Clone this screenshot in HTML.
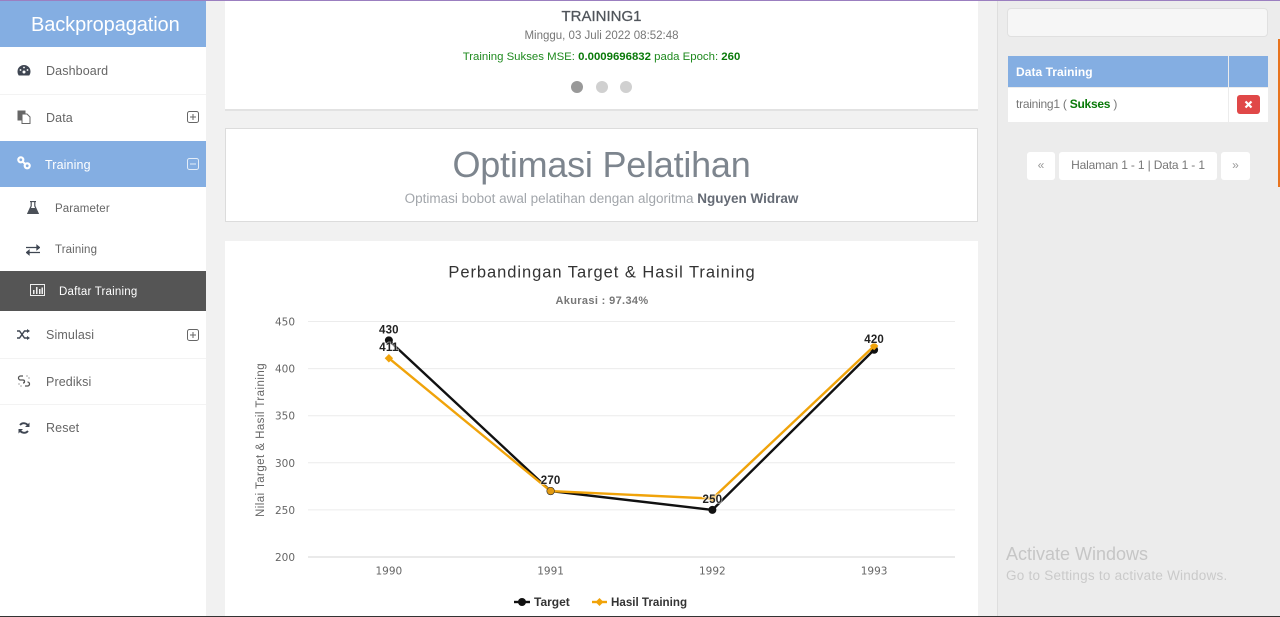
<!DOCTYPE html>
<html lang="id">
<head>
<meta charset="utf-8">
<title>Optimasi Pelatihan</title>
<style>
html,body{margin:0;padding:0;width:1280px;height:617px;overflow:hidden;background:#f1f1f1;font-family:"Liberation Sans",sans-serif;color:#6b6f74}
*{box-sizing:border-box}
.abs{position:absolute}
.t{position:absolute;white-space:nowrap}
#sidebar{position:absolute;left:0;top:0;width:206px;height:617px;background:#fff}
.row{position:absolute;left:0;width:206px;border-bottom:1px solid #f3f3f3}
.lbl{position:absolute;font-size:12.5px;white-space:nowrap;color:#666;letter-spacing:.12px}
.ico{position:absolute}
.card{position:absolute;background:#fff}
#right{position:absolute;left:997px;top:0;width:283px;height:617px;background:#ececec;border-left:1px solid #dedede}
</style>
</head>
<body>
<div class="abs" style="left:0;top:0;width:1280px;height:1px;background:#9b7fc0;z-index:9"></div>
<div class="abs" style="left:0;top:616px;width:1280px;height:1px;background:#333;z-index:9"></div>

<nav id="sidebar">
  <div class="abs" style="left:0;top:0;width:206px;height:47px;background:#84aee2">
    <div class="t" style="left:31px;top:14px;font-size:20px;color:#fff;letter-spacing:-.1px">Backpropagation</div>
  </div>

  <div class="row" style="top:47px;height:48px">
    <svg class="ico" style="left:17px;top:17px" width="14" height="13" viewBox="0 0 14 13"><path d="M7 1a6.5 6.5 0 0 0-6.5 6.5c0 1.600.5 3 1.300 4h10.400c.8-1 1.300-2.400 1.300-4A6.500 6.500 0 0 0 7 1z" fill="#3f4652"/><circle cx="7" cy="8" r="1.500" fill="#fff"/><circle cx="3.500" cy="6" r=".9" fill="#fff"/><circle cx="10.500" cy="6" r=".9" fill="#fff"/><circle cx="7" cy="3.500" r=".9" fill="#fff"/></svg>
    <div class="lbl" style="left:46px;top:17px">Dashboard</div>
  </div>

  <div class="row" style="top:95px;height:46px;border:0">
    <svg class="ico" style="left:17px;top:15px" width="14" height="14" viewBox="0 0 14 14"><rect x="0.500" y="0.500" width="8" height="10" fill="#666"/><path d="M5 4h5l3 3v6.500H5z" fill="#fff" stroke="#666"/></svg>
    <div class="lbl" style="left:46px;top:16px">Data</div>
    <svg class="ico" style="left:187px;top:16px" width="12" height="12" viewBox="0 0 12 12"><rect x=".5" y=".5" width="11" height="11" rx="2" fill="none" stroke="#666"/><path d="M3 6h6M6 3v6" stroke="#666"/></svg>
  </div>

  <div class="abs" style="left:0;top:141px;width:206px;height:46px;background:#84aee2">
    <svg class="ico" style="left:17px;top:15px" width="14" height="14" viewBox="0 0 14 14"><circle cx="3.800" cy="3.800" r="2.500" fill="none" stroke="#fff" stroke-width="2.200"/><circle cx="10.200" cy="9.800" r="2.500" fill="none" stroke="#fff" stroke-width="2.200"/><path d="M5.500 5.500l3 2.700" stroke="#fff" stroke-width="2"/></svg>
    <div class="lbl" style="left:45px;top:17px;color:#fff">Training</div>
    <svg class="ico" style="left:187px;top:17px" width="12" height="12" viewBox="0 0 12 12"><rect x=".5" y=".5" width="11" height="11" rx="2" fill="none" stroke="#e4edf8"/><path d="M3 6h6" stroke="#e4edf8"/></svg>
  </div>

  <div class="abs" style="left:0;top:187px;width:206px;height:42px">
    <svg class="ico" style="left:27px;top:14px" width="12" height="13" viewBox="0 0 12 13"><path d="M3 .5h6M4.200 1v4L.8 12.500h10.400L7.800 5V1" fill="none" stroke="#4b5058" stroke-width="1.200"/><path d="M3 7h6l2.200 5.500H.8z" fill="#4b5058"/></svg>
    <div class="lbl" style="left:55px;top:16px;font-size:11.5px">Parameter</div>
  </div>

  <div class="abs" style="left:0;top:229px;width:206px;height:41px">
    <svg class="ico" style="left:26px;top:15px" width="14" height="12" viewBox="0 0 14 12"><path d="M0 3.500h11M11 1.500l2.500 2-2.500 2zM14 8.500H3M3 6.500l-2.500 2 2.500 2z" stroke="#3f4652" stroke-width="1.300" fill="#3f4652"/></svg>
    <div class="lbl" style="left:55px;top:15px;font-size:11.5px">Training</div>
  </div>

  <div class="abs" style="left:0;top:271px;width:206px;height:40px;background:#555">
    <svg class="ico" style="left:30px;top:13px" width="15" height="12" viewBox="0 0 15 12"><rect x=".5" y=".5" width="14" height="11" fill="#555" stroke="#eee"/><path d="M3 10V6h1.500v4zM6 10V3h1.500v7zM9 10V5h1.500v5zM11.500 10V3.500H13V10z" fill="#eee"/></svg>
    <div class="lbl" style="left:59px;top:15px;font-size:11.5px;color:#fff;letter-spacing:.2px">Daftar Training</div>
  </div>

  <div class="row" style="top:311px;height:48px">
    <svg class="ico" style="left:17px;top:18px" width="13" height="11" viewBox="0 0 13 11"><path d="M0 2h2.500l5 7H10M0 9h2.500l5-7H10" fill="none" stroke="#3f4652" stroke-width="1.400"/><path d="M10 0l3 2-3 2zM10 7l3 2-3 2z" fill="#3f4652"/></svg>
    <div class="lbl" style="left:46px;top:17px">Simulasi</div>
    <svg class="ico" style="left:187px;top:18px" width="12" height="12" viewBox="0 0 12 12"><rect x=".5" y=".5" width="11" height="11" rx="2" fill="none" stroke="#666"/><path d="M3 6h6M6 3v6" stroke="#666"/></svg>
  </div>

  <div class="row" style="top:359px;height:46px">
    <svg class="ico" style="left:17px;top:15px" width="14" height="14" viewBox="0 0 14 14"><path d="M6 2H3.500a2 2 0 0 0 0 4H6c2 0 2 3 0 3M8 12h2.500a2 2 0 0 0 0-4" fill="none" stroke="#555" stroke-width="1.300"/><path d="M10 1v2M13 4h-2M1 10h2M4 13v-2" stroke="#aaa"/></svg>
    <div class="lbl" style="left:46px;top:16px">Prediksi</div>
  </div>

  <div class="abs" style="left:0;top:405px;width:206px;height:46px">
    <svg class="ico" style="left:18px;top:17px" width="12" height="12" viewBox="0 0 12 12"><path d="M10.500 4.500A5 5 0 0 0 2 3M1.500 7.500A5 5 0 0 0 10 9" fill="none" stroke="#3f4652" stroke-width="1.900"/><path d="M11.500 .5v4.500H7zM.5 11.500V7H5z" fill="#3f4652"/></svg>
    <div class="lbl" style="left:46px;top:16px">Reset</div>
  </div>
</nav>

<section class="card" style="left:225px;top:0;width:753px;height:111px;border-bottom:2px solid #e2e2e2">
  <div class="t" style="left:0;width:753px;text-align:center;top:8px;font-size:15px;color:#50555b;-webkit-text-stroke:.25px #50555b">TRAINING1</div>
  <div class="t" style="left:0;width:753px;text-align:center;top:30px;font-size:11.5px;color:#777">Minggu, 03 Juli 2022 08:52:48</div>
  <div class="t" style="left:0;width:753px;text-align:center;top:50px;font-size:11.4px;line-height:14px;color:#1f8a1f">Training Sukses MSE: <b style="color:#0a7a0a">0.0009696832</b> pada Epoch: <b style="color:#0a7a0a">260</b></div>
  <div class="abs" style="left:346px;top:81px;width:12px;height:12px;border-radius:50%;background:#999"></div>
  <div class="abs" style="left:371px;top:81px;width:12px;height:12px;border-radius:50%;background:#d0d0d0"></div>
  <div class="abs" style="left:395px;top:81px;width:12px;height:12px;border-radius:50%;background:#d0d0d0"></div>
</section>

<section class="card" style="left:225px;top:128px;width:753px;height:94px;border:1px solid #dcdcdc">
  <div class="t" style="left:0;width:751px;text-align:center;top:15px;font-size:36px;color:#7d858e;letter-spacing:-.23px;font-weight:300">Optimasi Pelatihan</div>
  <div class="t" style="left:0;width:751px;text-align:center;top:62px;font-size:13.5px;color:#a2a6ab">Optimasi bobot awal pelatihan dengan algoritma <b style="color:#656b75">Nguyen Widraw</b></div>
</section>

<section class="card" style="left:225px;top:241px;width:753px;height:376px"></section>

<svg id="chart" class="abs" style="left:225px;top:241px" width="753" height="376" viewBox="0 0 753 376" font-family="'DejaVu Sans',sans-serif">
  <text x="377" y="36.5" text-anchor="middle" font-size="16.500" fill="#333" font-family="'Liberation Sans',sans-serif" letter-spacing=".95">Perbandingan Target &amp; Hasil Training</text>
  <text x="377" y="63" text-anchor="middle" font-size="11" fill="#777" font-family="'Liberation Sans',sans-serif" font-weight="bold" letter-spacing=".35">Akurasi : 97.34%</text>
  <text transform="translate(39,199) rotate(-90)" text-anchor="middle" font-size="11.500" fill="#666" font-family="'Liberation Sans',sans-serif" letter-spacing=".45">Nilai Target &amp; Hasil Training</text>
  <g id="grid"></g>
  <g id="series"></g>
  <g id="labels"></g>
  <g id="legend"></g>
</svg>

<aside id="right">
  <div class="abs" style="left:9px;top:8px;width:261px;height:29px;background:#f6f6f6;border:1px solid #e0e0e0;border-radius:4px"></div>
  <div class="abs" style="left:10px;top:56px;width:220px;height:31px;background:#84aee2">
    <div class="t" style="left:8px;top:9px;font-size:12px;color:#fff;font-weight:bold;letter-spacing:.05px">Data Training</div>
  </div>
  <div class="abs" style="left:231px;top:56px;width:39px;height:31px;background:#84aee2"></div>
  <div class="abs" style="left:10px;top:88px;width:220px;height:34px;background:#fff">
    <div class="t" style="left:8px;top:9px;font-size:12px;color:#777;letter-spacing:-.25px">training1 ( <b style="color:#0a7a0a">Sukses</b> )</div>
  </div>
  <div class="abs" style="left:231px;top:88px;width:39px;height:34px;background:#fff">
    <div class="abs" style="left:8px;top:7px;width:23px;height:19px;background:#e04848;border-radius:3px">
      <svg class="abs" style="left:7px;top:5px" width="9" height="9" viewBox="0 0 9 9"><path d="M1.500 1.500l6 6M7.500 1.500l-6 6" stroke="#fff" stroke-width="2.200"/></svg>
    </div>
  </div>
  <div class="abs" style="left:29px;top:152px;width:28px;height:28px;background:#fff;border-radius:3px;text-align:center;font-size:12px;line-height:27px;color:#999">«</div>
  <div class="abs" style="left:61px;top:152px;width:158px;height:28px;background:#fff;border-radius:3px;text-align:center;font-size:12px;line-height:27px;color:#777;letter-spacing:-.16px">Halaman 1 - 1 | Data 1 - 1</div>
  <div class="abs" style="left:223px;top:152px;width:29px;height:28px;background:#fff;border-radius:3px;text-align:center;font-size:12px;line-height:27px;color:#999">»</div>
  <div class="t" style="left:8px;top:544px;font-size:18px;color:#c6c6c6">Activate Windows</div>
  <div class="t" style="left:8px;top:568px;font-size:13.5px;color:#cacaca;letter-spacing:.24px">Go to Settings to activate Windows.</div>
</aside>
<div class="abs" style="left:1278px;top:39px;width:2px;height:148px;background:#e8741e"></div>

<script>
const categories = ['1990', '1991', '1992', '1993'];
const targetValues = [430, 270, 250, 420];
const hasilValues = [411, 270, 262, 424];
const yTicks = [200, 250, 300, 350, 400, 450];
const targetLabels = ['430', '270', '250', '420'];
const hasilLabels = ['411', '', '', ''];
const seriesNames = ['Target', 'Hasil Training'];

const NS = 'http://www.w3.org/2000/svg';
const plot = { left: 83, right: 730, top: 80.5, bottom: 316 };
const yMin = yTicks[0];
const yMax = yTicks[yTicks.length - 1];
function xScale(i) {
  return plot.left + (i + 0.5) * (plot.right - plot.left) / categories.length;
}
function yScale(v) {
  return plot.bottom - (v - yMin) / (yMax - yMin) * (plot.bottom - plot.top);
}
function make(tag, attrs, parent, text) {
  const el = document.createElementNS(NS, tag);
  for (const k in attrs) el.setAttribute(k, attrs[k]);
  if (text !== undefined) el.textContent = text;
  parent.appendChild(el);
  return el;
}
const grid = document.getElementById('grid');
const seriesG = document.getElementById('series');
const labelsG = document.getElementById('labels');
const legendG = document.getElementById('legend');

yTicks.forEach(function (t) {
  const y = yScale(t);
  const line = make('line', { x1: plot.left, x2: plot.right, y1: y, y2: y, stroke: t === yMin ? '#d4d4d4' : '#ececec', 'stroke-width': 1 }, grid);
  
  
  const label = make('text', { x: 70, y: y + 4, 'text-anchor': 'end', 'font-size': 10.5, fill: '#666' }, grid, String(t));
  
  
});
categories.forEach(function (c, i) {
  const label = make('text', { x: xScale(i), y: 333.5, 'text-anchor': 'middle', 'font-size': 10.5, fill: '#666' }, grid, c);
  
  
});

function drawSeries(values, color, width, name, radius, shape) {
  const pts = values.map(function (v, i) { return xScale(i) + ',' + yScale(v); }).join(' ');
  const line = make('polyline', { points: pts, fill: 'none', stroke: color, 'stroke-width': width, 'stroke-linejoin': 'round' }, seriesG);
  
  
  values.forEach(function (v, i) {
    const cx = xScale(i);
    const cy = yScale(v);
    const pt = shape === 'diamond'
      ? make('path', { d: 'M' + cx + ' ' + (cy - radius) + 'L' + (cx + radius) + ' ' + cy + 'L' + cx + ' ' + (cy + radius) + 'L' + (cx - radius) + ' ' + cy + 'Z', fill: color }, seriesG)
      : make('circle', { cx: cx, cy: cy, r: radius, fill: color }, seriesG);
    
    
  });
}
drawSeries(targetValues, '#111111', 2.4, 'target', 4, 'circle');
drawSeries(hasilValues, '#f0a30a', 2.4, 'hasil', 4.2, 'diamond');

const overlap = make('circle', { cx: xScale(1), cy: yScale(hasilValues[1]), r: 3.8, fill: '#e39a10', stroke: '#333', 'stroke-width': 0.6 }, seriesG);



function drawLabels(values, labels, name) {
  values.forEach(function (v, i) {
    if (!labels[i]) return;
    const x = xScale(i);
    const y = yScale(v) - 7;
    const halo = make('text', { x: x, y: y, 'text-anchor': 'middle', 'font-size': 11.5, fill: '#fff', stroke: '#fff', 'stroke-width': 2, 'stroke-opacity': 0.5, 'font-family': "'Liberation Sans',sans-serif", 'font-weight': 'bold', 'letter-spacing': '.2' }, labelsG, labels[i]);
    
    
    const t = make('text', { x: x, y: y, 'text-anchor': 'middle', 'font-size': 11.5, fill: '#222', 'font-family': "'Liberation Sans',sans-serif", 'font-weight': 'bold', 'letter-spacing': '.2' }, labelsG, labels[i]);
    
    
  });
}
drawLabels(hasilValues, hasilLabels, 'hasil');
drawLabels(targetValues, targetLabels, 'target');

const legendY = 361;
const l1 = make('line', { x1: 289, x2: 305, y1: legendY, y2: legendY, stroke: '#111', 'stroke-width': 2.4 }, legendG);


const m1 = make('circle', { cx: 297, cy: legendY, r: 4, fill: '#111' }, legendG);


const t1 = make('text', { x: 309, y: legendY + 4, 'font-size': 12, fill: '#333', 'font-family': "'Liberation Sans',sans-serif", 'font-weight': 'bold' }, legendG, seriesNames[0]);


const l2 = make('line', { x1: 367, x2: 382, y1: legendY, y2: legendY, stroke: '#f0a30a', 'stroke-width': 2.4 }, legendG);


const m2 = make('path', { d: 'M374.5 ' + (legendY - 4) + 'l4 4l-4 4l-4 -4z', fill: '#f0a30a' }, legendG);


const t2 = make('text', { x: 386, y: legendY + 4, 'font-size': 11.6, fill: '#333', 'font-family': "'Liberation Sans',sans-serif", 'font-weight': 'bold' }, legendG, seriesNames[1]);


</script>
</body>
</html>
